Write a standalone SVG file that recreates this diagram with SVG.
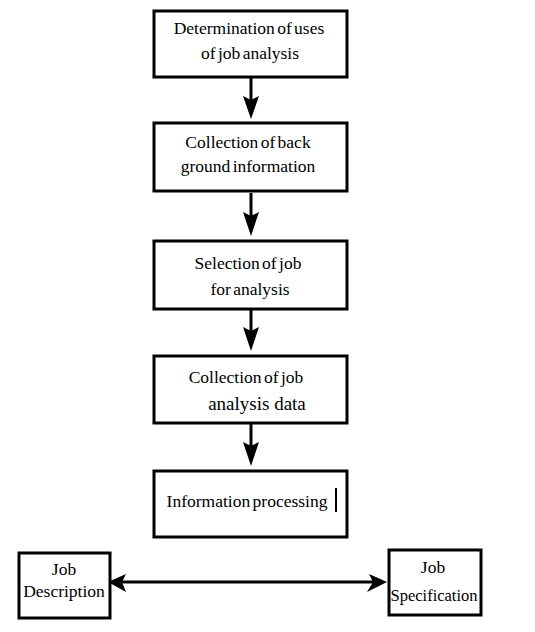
<svg xmlns="http://www.w3.org/2000/svg" width="535" height="632" viewBox="0 0 535 632">
<style>
.box{fill:#fff;stroke:#000;stroke-width:3}
.t{font-family:"Liberation Serif","Times New Roman",serif;font-size:17.5px;fill:#000;text-anchor:middle;word-spacing:-2px}
.ln{stroke:#000;stroke-width:3;fill:none}
.ah{fill:#000}
</style>
<rect width="535" height="632" fill="#fff"/>
<g id="connectors">
<line class="ln" x1="251" y1="78" x2="251" y2="102"/>
<path class="ah" d="M243,96 L251,100 L259,96 L251,119 Z"/>
<line class="ln" x1="251" y1="193" x2="251" y2="218"/>
<path class="ah" d="M243,212 L251,216 L259,212 L251,236 Z"/>
<line class="ln" x1="251" y1="310" x2="251" y2="333"/>
<path class="ah" d="M243,327 L251,331 L259,327 L251,351 Z"/>
<line class="ln" x1="251" y1="424" x2="251" y2="448"/>
<path class="ah" d="M243,442 L251,446 L259,442 L251,466 Z"/>
<line class="ln" x1="118" y1="582" x2="378" y2="582"/>
<path class="ah" d="M108,582 L126,574 L122,582 L126,592 Z"/>
<path class="ah" d="M387,582 L369,574 L373,582 L367,592 Z"/>
</g>
<g id="n1">
<rect class="box" x="154" y="11" width="193" height="66"/>
<text class="t" x="249" y="34">Determination of uses</text>
<text class="t" x="250" y="59">of job analysis</text>
</g>
<g id="n2">
<rect class="box" x="154" y="123" width="193" height="68"/>
<text class="t" x="248" y="148">Collection of back</text>
<text class="t" x="248" y="172">ground information</text>
</g>
<g id="n3">
<rect class="box" x="154" y="241" width="193" height="68"/>
<text class="t" x="248" y="269">Selection of job</text>
<text class="t" x="250" y="295">for analysis</text>
</g>
<g id="n4">
<rect class="box" x="154" y="356" width="193" height="67"/>
<text class="t" x="246" y="383">Collection of job</text>
<text class="t" x="257" y="410" style="font-size:19px;word-spacing:0">analysis data</text>
</g>
<g id="n5">
<rect class="box" x="154" y="471" width="193" height="66"/>
<text class="t" x="247" y="507">Information processing</text>
<line x1="336" y1="488" x2="336" y2="512" stroke="#000" stroke-width="2"/>
</g>
<g id="n6">
<rect class="box" x="19" y="553" width="91" height="65"/>
<text class="t" x="64" y="575">Job</text>
<text class="t" x="64" y="597">Description</text>
</g>
<g id="n7">
<rect class="box" x="389" y="550" width="92" height="65"/>
<text class="t" x="433" y="573">Job</text>
<text class="t" x="434" y="601" textLength="87" lengthAdjust="spacingAndGlyphs">Specification</text>
</g>
</svg>
